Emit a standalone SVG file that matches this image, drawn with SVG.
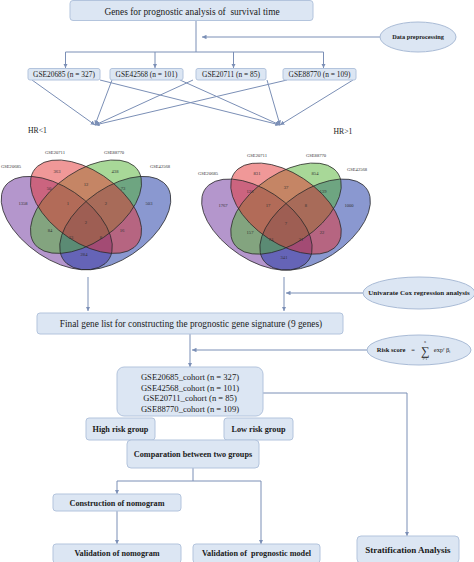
<svg xmlns="http://www.w3.org/2000/svg" width="474" height="562" viewBox="0 0 474 562">
<defs>
<marker id="ah" viewBox="0 0 6 6" refX="6" refY="3" markerWidth="4.5" markerHeight="4.5" markerUnits="userSpaceOnUse" orient="auto">
<path d="M0,0 L6,3 L0,6 z" fill="#7b8fb6"/>
</marker>
<ellipse id="ell" cx="0" cy="0" rx="0.35" ry="0.2" vector-effect="non-scaling-stroke"/>
</defs>
<style>
.box{fill:#dce6f3;stroke:#b3c4dd;stroke-width:1}
.ov{fill:#dce6f3;stroke:#a9bbd6;stroke-width:1}
.c{fill:none;stroke:#7b8fb6;stroke-width:1}
.ca{fill:none;stroke:#7b8fb6;stroke-width:1;marker-end:url(#ah)}
text{font-family:"Liberation Serif","Times New Roman",serif;fill:#1a1a1a;text-anchor:middle}
.b{font-weight:bold}
.vl{font-size:4.6px;fill:#333}
.vs{font-size:4.6px;fill:#333}
.fp{fill-opacity:0.5;stroke:none}
.vo{fill:none;stroke:#2a2a2a;stroke-width:0.8}
</style>

<g id="connectors">
<line class="c" x1="196" y1="20" x2="196" y2="52"/>
<line class="ca" x1="380" y1="37" x2="202" y2="37"/>
<line class="c" x1="65.5" y1="52" x2="323.5" y2="52"/>
<line class="ca" x1="65.5" y1="52" x2="65.5" y2="68"/>
<line class="ca" x1="155" y1="52" x2="155" y2="68"/>
<line class="ca" x1="233.5" y1="52" x2="233.5" y2="68"/>
<line class="ca" x1="323.5" y1="52" x2="323.5" y2="68"/>
<line class="ca" x1="32" y1="80" x2="95" y2="125"/>
<line class="ca" x1="112" y1="80" x2="95" y2="125"/>
<line class="ca" x1="193" y1="80" x2="95" y2="125"/>
<line class="ca" x1="287" y1="80" x2="95" y2="125"/>
<line class="ca" x1="100" y1="80" x2="280" y2="125"/>
<line class="ca" x1="180" y1="80" x2="280" y2="125"/>
<line class="ca" x1="267" y1="80" x2="280" y2="125"/>
<line class="ca" x1="353" y1="80" x2="280" y2="125"/>
<line class="ca" x1="88" y1="277" x2="88" y2="311"/>
<line class="ca" x1="284" y1="277" x2="284" y2="311"/>
<line class="ca" x1="363" y1="293" x2="286" y2="293"/>
<line class="ca" x1="190" y1="334" x2="190" y2="367"/>
<line class="ca" x1="367" y1="350" x2="192" y2="350"/>
<polyline class="ca" points="263,393 407,393 407,536"/>
<line class="c" x1="193" y1="468" x2="193" y2="481"/>
<line class="c" x1="117" y1="481" x2="261" y2="481"/>
<line class="ca" x1="117" y1="481" x2="117" y2="494"/>
<line class="ca" x1="261" y1="481" x2="261" y2="544"/>
<line class="ca" x1="117" y1="511" x2="117" y2="544"/>
</g>

<g id="n-genes">
<rect class="box" x="70" y="0.5" width="243" height="20" rx="3"/>
<text x="192" y="14.5" font-size="9.4" xml:space="preserve">Genes for prognostic analysis of  survival time</text>
</g>
<g id="n-preproc">
<ellipse class="ov" cx="418" cy="37" rx="38" ry="15"/>
<text class="b" x="418" y="39.2" font-size="6.3">Data preprocessing</text>
</g>
<g id="n-gse20685">
<rect class="box" x="28" y="68.5" width="72" height="11.5" rx="2"/>
<text x="64" y="76.8" font-size="7.4">GSE20685 (n = 327)</text>
</g>
<g id="n-gse42568">
<rect class="box" x="110" y="68.5" width="73" height="11.5" rx="2"/>
<text x="146.5" y="76.8" font-size="7.4">GSE42568 (n = 101)</text>
</g>
<g id="n-gse20711">
<rect class="box" x="196" y="68.5" width="70" height="11.5" rx="2"/>
<text x="231" y="76.8" font-size="7.4">GSE20711 (n = 85)</text>
</g>
<g id="n-gse88770">
<rect class="box" x="283" y="68.5" width="73" height="11.5" rx="2"/>
<text x="319.5" y="76.8" font-size="7.4">GSE88770 (n = 109)</text>
</g>

<g id="hr-labels">
<text x="37.5" y="133" font-size="7.7">HR&lt;1</text>
<text x="343" y="134" font-size="7.7">HR&gt;1</text>
</g>

<g id="venn-left">
<g transform="translate(86 206.7) scale(195 -164)">
<use href="#ell" class="fp" fill="#692d99" transform="translate(-0.15 -0.10) rotate(-45)"/>
<use href="#ell" class="fp" fill="#1531a1" transform="translate(0.15 -0.10) rotate(45)"/>
<use href="#ell" class="fp" fill="#51b131" transform="rotate(45)"/>
<use href="#ell" class="fp" fill="#e13131" transform="rotate(-45)"/>
<use href="#ell" class="vo" transform="translate(-0.15 -0.10) rotate(-45)"/>
<use href="#ell" class="vo" transform="translate(0.15 -0.10) rotate(45)"/>
<use href="#ell" class="vo" transform="rotate(45)"/>
<use href="#ell" class="vo" transform="rotate(-45)"/>
</g>
<text class="vs" x="11" y="167.5">GSE20685</text>
<text class="vs" x="55" y="153.5">GSE20711</text>
<text class="vs" x="114" y="153.5">GSE88770</text>
<text class="vs" x="160" y="167.5">GSE42568</text>
<text class="vl" x="57" y="172.6">363</text>
<text class="vl" x="115" y="172.6">438</text>
<text class="vl" x="49" y="189.6">50</text>
<text class="vl" x="86" y="185.6">12</text>
<text class="vl" x="123" y="189.6">73</text>
<text class="vl" x="23" y="204.6">1358</text>
<text class="vl" x="68" y="204.6">1</text>
<text class="vl" x="106" y="204.6">2</text>
<text class="vl" x="149" y="204.6">503</text>
<text class="vl" x="86" y="223.6">2</text>
<text class="vl" x="50" y="231.6">84</text>
<text class="vl" x="122" y="231.6">16</text>
<text class="vl" x="71" y="238.6">33</text>
<text class="vl" x="101" y="238.6">8</text>
<text class="vl" x="84" y="255.6">284</text>
</g>

<g id="venn-right">
<g transform="translate(286 208.6) scale(194 -160)">
<use href="#ell" class="fp" fill="#692d99" transform="translate(-0.15 -0.10) rotate(-45)"/>
<use href="#ell" class="fp" fill="#1531a1" transform="translate(0.15 -0.10) rotate(45)"/>
<use href="#ell" class="fp" fill="#51b131" transform="rotate(45)"/>
<use href="#ell" class="fp" fill="#e13131" transform="rotate(-45)"/>
<use href="#ell" class="vo" transform="translate(-0.15 -0.10) rotate(-45)"/>
<use href="#ell" class="vo" transform="translate(0.15 -0.10) rotate(45)"/>
<use href="#ell" class="vo" transform="rotate(45)"/>
<use href="#ell" class="vo" transform="rotate(-45)"/>
</g>
<text class="vs" x="208" y="174.5">GSE20685</text>
<text class="vs" x="257" y="156.5">GSE20711</text>
<text class="vs" x="316" y="156.5">GSE88770</text>
<text class="vs" x="357" y="170.5">GSE42568</text>
<text class="vl" x="257" y="174.6">831</text>
<text class="vl" x="315" y="174.6">854</text>
<text class="vl" x="250" y="192.6">126</text>
<text class="vl" x="286" y="188.6">37</text>
<text class="vl" x="323" y="192.6">139</text>
<text class="vl" x="223" y="206.6">1767</text>
<text class="vl" x="268" y="206.6">17</text>
<text class="vl" x="306" y="206.6">8</text>
<text class="vl" x="349" y="206.6">1000</text>
<text class="vl" x="286" y="224.6">7</text>
<text class="vl" x="250" y="233.6">157</text>
<text class="vl" x="322" y="233.6">22</text>
<text class="vl" x="271" y="240.6">74</text>
<text class="vl" x="301" y="240.6">21</text>
<text class="vl" x="284" y="258.6">341</text>
</g>

<g id="n-cox">
<ellipse class="ov" cx="419" cy="293" rx="56" ry="16"/>
<text class="b" x="419" y="295.4" font-size="7">Univarate Cox regression analysis</text>
</g>
<g id="n-final">
<rect class="box" x="37" y="313" width="306" height="21" rx="3"/>
<text x="191" y="327" font-size="9.3">Final gene list for constructing the prognostic gene signature (9 genes)</text>
</g>
<g id="n-risk">
<ellipse class="ov" cx="419" cy="350" rx="52" ry="15"/>
<text class="b" x="391" y="352.4" font-size="6.5">Risk score</text>
<text x="413" y="352.4" font-size="6.5">=</text>
<text x="425" y="355" font-size="12">∑</text>
<text x="425" y="342.5" font-size="3.5">n</text>
<text x="425" y="359.8" font-size="3.5">i=1</text>
<text x="442" y="352.4" font-size="6.5">exp<tspan font-size="3.5" dy="-2">r</tspan><tspan dy="2" font-size="6.5"> β</tspan><tspan font-size="3.5" dy="1">i</tspan></text>
</g>
<g id="n-cohort">
<rect class="box" x="117" y="367" width="146" height="49" rx="7"/>
<text x="190" y="379.5" font-size="8.6">GSE20685_cohort (n = 327)</text>
<text x="190" y="390.5" font-size="8.6">GSE42568_cohort (n = 101)</text>
<text x="190" y="401.2" font-size="8.6">GSE20711_cohort (n = 85)</text>
<text x="190" y="412" font-size="8.6">GSE88770_cohort (n = 109)</text>
</g>
<g id="n-high">
<rect class="box" x="86" y="418" width="69" height="22" rx="3"/>
<text class="b" x="120.5" y="431.8" font-size="8.2">High risk group</text>
</g>
<g id="n-low">
<rect class="box" x="224" y="418" width="69" height="22" rx="3"/>
<text class="b" x="258.5" y="431.8" font-size="8.2">Low risk group</text>
</g>
<g id="n-compare">
<rect class="box" x="127" y="440" width="132" height="28" rx="4"/>
<text class="b" x="193" y="456.8" font-size="8.2">Comparation between two groups</text>
</g>
<g id="n-construct">
<rect class="box" x="53" y="494" width="128" height="17" rx="3"/>
<text class="b" x="117" y="505.6" font-size="8.2">Construction of nomogram</text>
</g>
<g id="n-valnomo">
<rect class="box" x="53" y="544" width="128" height="19" rx="3"/>
<text class="b" x="117" y="556.2" font-size="8.2">Validation of nomogram</text>
</g>
<g id="n-valmodel">
<rect class="box" x="193" y="544" width="127" height="19" rx="3"/>
<text class="b" x="256.5" y="556.2" font-size="8.2" xml:space="preserve">Validation of  prognostic model</text>
</g>
<g id="n-strat">
<rect class="box" x="357" y="536" width="102" height="27" rx="4"/>
<text class="b" x="408" y="552.8" font-size="9">Stratification Analysis</text>
</g>
</svg>
